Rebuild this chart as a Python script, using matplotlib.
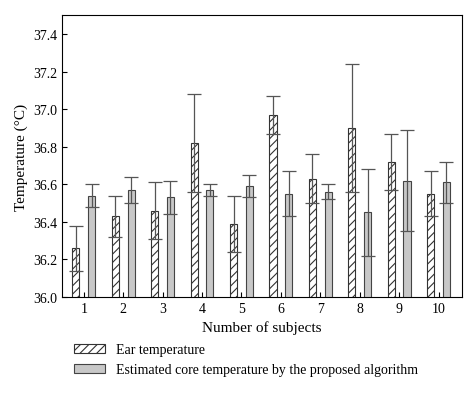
import matplotlib
matplotlib.use("Agg")
import matplotlib.pyplot as plt
import numpy as np

subjects = [1, 2, 3, 4, 5, 6, 7, 8, 9, 10]
ear = [36.26, 36.43, 36.46, 36.82, 36.39, 36.97, 36.63, 36.90, 36.72, 36.55]
ear_err = [0.12, 0.11, 0.15, 0.26, 0.15, 0.10, 0.13, 0.34, 0.15, 0.12]
core = [36.54, 36.57, 36.53, 36.57, 36.59, 36.55, 36.56, 36.45, 36.62, 36.61]
core_err = [0.06, 0.07, 0.09, 0.03, 0.06, 0.12, 0.04, 0.23, 0.27, 0.11]

plt.rcParams['font.family'] = ['Liberation Serif', 'DejaVu Serif']
plt.rcParams['hatch.linewidth'] = 0.8
fig = plt.figure(figsize=(4.74, 4.06), dpi=100)
ax = fig.add_axes([0.131, 0.266, 0.844, 0.694])
x = np.array(subjects)
w = 0.18
ek = dict(ecolor='#555555', elinewidth=0.9, capsize=5, capthick=0.9)
b1 = ax.bar(x - 0.2, ear, w, bottom=0, yerr=ear_err, color='white', edgecolor='#333333',
            hatch='////', linewidth=0.8, error_kw=ek, label='Ear temperature')
b2 = ax.bar(x + 0.2, core, w, yerr=core_err, color='#c8c8c8', edgecolor='#444444',
            linewidth=0.8, error_kw=ek, label='Estimated core temperature by the proposed algorithm')
ax.set_ylim(36.0, 37.5)
ax.set_xlim(0.45, 10.6)
ax.set_yticks(np.arange(36.0, 37.41, 0.2))
ax.set_yticklabels([f"{v:.1f}" for v in np.arange(36.0, 37.41, 0.2)])
ax.set_xticks(x)
ax.tick_params(direction='in', labelsize=10)
ax.set_xlabel('Number of subjects', fontsize=11)
ax.set_ylabel('Temperature (°C)', fontsize=11)
fig.legend(handles=[b1, b2], loc='lower left', bbox_to_anchor=(0.13, 0.04), frameon=False, fontsize=10,
           handlelength=2.2)
fig.savefig('out.png', dpi=100)
